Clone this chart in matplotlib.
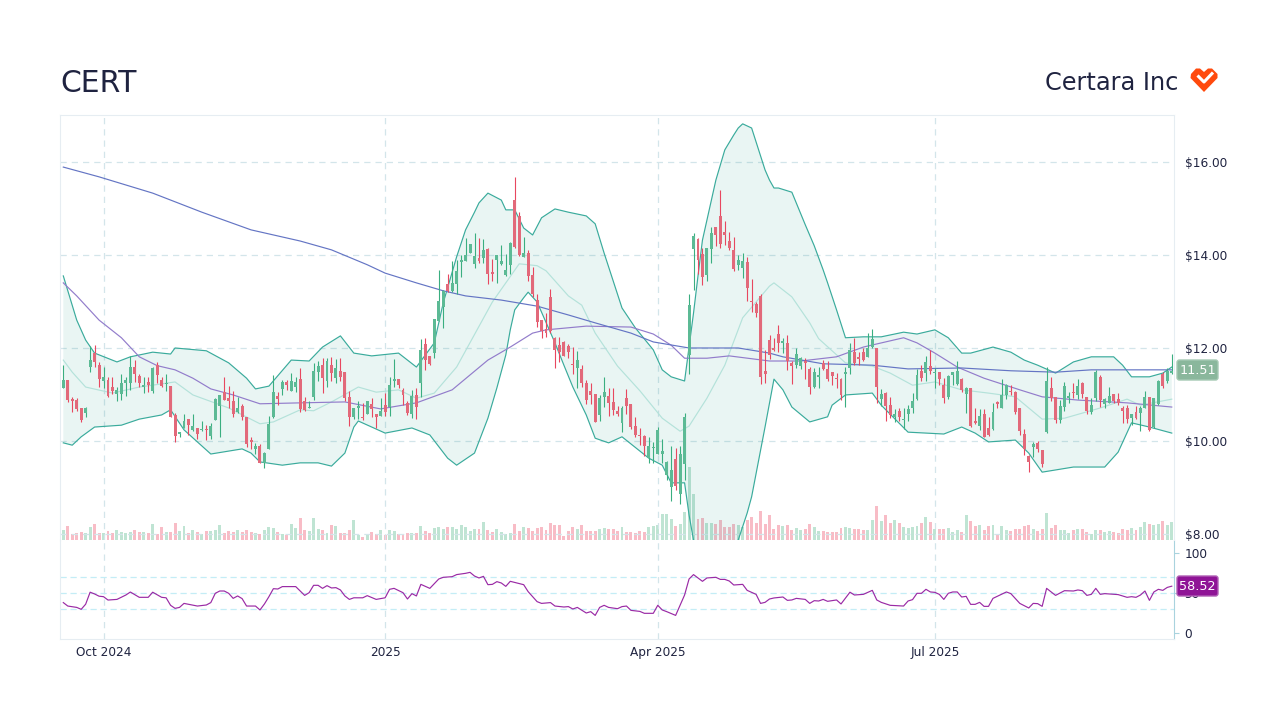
import numpy as np
import matplotlib
matplotlib.use("Agg")
import matplotlib.pyplot as plt
from matplotlib.patches import FancyBboxPatch, Polygon

# daily candles, one value per trading day
highs = [11.63,11.31,10.94,10.92,10.72,10.74,12.04,12.06,11.69,11.60,
    11.38,11.38,11.17,11.45,11.38,11.83,11.75,11.45,11.38,11.37,
    11.60,11.69,11.38,11.43,11.19,10.61,10.20,10.59,10.47,10.59,
    10.29,10.44,10.34,10.38,10.92,10.99,11.37,11.19,11.08,10.94,
    10.79,10.52,10.09,9.95,9.93,9.77,10.54,11.42,11.06,11.32,
    11.31,11.47,11.37,11.58,10.94,10.86,11.67,11.73,11.78,11.78,
    11.81,11.76,11.78,11.49,11.08,10.71,10.85,10.82,10.86,10.93,
    10.58,10.93,11.04,11.37,11.76,11.33,11.15,10.85,11.10,11.13,
    12.19,12.21,11.83,12.63,13.68,13.25,13.60,13.86,13.89,13.99,
    14.36,14.24,14.48,14.37,14.34,14.14,13.91,14.00,14.21,14.03,
    14.27,15.68,14.93,14.39,14.11,13.74,13.17,12.60,12.76,13.26,
    12.23,12.23,12.14,12.09,12.03,11.94,11.63,11.31,11.24,11.02,
    10.99,11.38,11.15,11.13,10.75,10.75,11.11,10.79,10.51,10.27,
    10.13,10.09,9.98,10.31,10.04,9.56,9.90,9.84,9.90,10.61,
    13.17,14.48,14.36,14.14,14.15,14.61,14.61,15.40,14.72,14.49,
    14.38,14.00,14.04,13.95,13.48,12.99,13.17,11.96,12.28,12.21,
    12.49,12.21,12.28,11.71,11.99,11.80,11.78,11.60,11.58,11.60,
    11.74,11.73,11.49,11.47,11.35,11.60,12.11,12.21,11.92,11.99,
    12.33,12.40,12.01,11.11,11.06,10.94,10.68,10.70,10.70,10.77,
    11.04,11.54,11.63,11.83,11.96,11.58,11.49,11.35,11.42,11.49,
    11.71,11.35,11.17,11.15,10.70,10.68,10.68,10.52,10.81,10.86,
    11.33,11.23,11.20,11.08,10.70,10.25,9.70,9.98,10.00,9.81,
    11.60,11.37,10.95,10.88,11.26,11.06,11.24,11.33,11.26,10.95,
    10.92,11.53,11.42,10.92,11.17,11.02,11.04,10.75,10.77,10.59,
    10.75,10.75,11.08,10.95,10.92,11.31,11.49,11.58,11.86]
opens = [11.14,11.31,10.91,10.88,10.71,10.61,11.60,11.90,11.63,11.30,
    11.32,11.16,11.01,11.00,11.24,11.24,11.60,11.40,11.17,11.27,
    11.08,11.63,11.32,11.23,11.19,10.56,10.15,10.29,10.47,10.23,
    10.28,10.24,10.26,10.11,10.46,10.76,11.05,10.92,10.86,10.63,
    10.75,10.51,10.02,9.83,9.89,9.53,9.83,10.51,10.97,11.11,
    11.27,11.08,11.17,11.33,10.85,10.71,10.95,11.49,11.63,11.30,
    11.63,11.36,11.51,11.48,10.94,10.52,10.72,10.51,10.59,10.79,
    10.58,10.54,10.77,10.74,11.30,11.33,11.10,10.81,10.57,10.99,
    11.25,12.09,11.83,11.89,12.57,12.89,13.38,13.23,13.38,13.84,
    13.88,14.05,13.81,13.93,13.93,14.12,13.62,13.89,13.81,13.57,
    13.78,15.18,14.84,13.96,14.04,13.56,13.03,12.60,12.40,13.09,
    12.21,12.06,12.12,12.05,11.64,11.58,11.54,11.25,11.08,11.01,
    10.56,10.95,10.97,10.83,10.65,10.39,10.92,10.79,10.32,10.13,
    10.11,9.63,9.84,9.73,9.71,9.27,9.02,9.61,8.86,9.51,
    11.85,14.12,14.34,14.02,13.57,14.12,14.61,14.84,14.50,14.29,
    14.11,13.79,13.73,13.84,13.01,12.95,13.12,11.50,12.17,11.99,
    12.29,12.11,12.10,11.68,11.63,11.61,11.73,11.54,11.17,11.37,
    11.68,11.54,11.48,11.35,11.33,11.45,11.56,11.92,11.80,11.91,
    11.81,12.03,11.99,10.90,11.04,10.77,10.52,10.64,10.45,10.58,
    10.70,10.90,11.51,11.47,11.61,11.46,11.49,11.20,10.94,11.42,
    11.23,11.33,11.02,11.15,10.43,10.32,10.58,10.27,10.25,10.84,
    10.72,10.99,11.08,11.06,10.70,10.15,9.68,9.88,9.96,9.81,
    10.20,11.15,10.94,10.45,10.74,10.92,11.06,10.99,11.25,10.95,
    10.63,10.92,11.38,10.80,10.82,11.01,10.90,10.72,10.70,10.49,
    10.63,10.61,10.72,10.94,10.31,10.80,11.43,11.28,11.46]
closes = [11.31,10.88,10.87,10.69,10.45,10.71,11.75,11.70,11.33,11.38,
    10.97,11.07,11.09,11.24,11.32,11.60,11.45,11.24,11.20,11.20,
    11.57,11.42,11.19,11.24,10.52,10.11,10.20,10.42,10.34,10.32,
    10.16,10.26,10.24,10.32,10.90,10.99,10.89,10.87,10.57,10.71,
    10.52,9.93,9.98,9.90,9.53,9.75,10.36,11.05,10.91,11.27,
    11.20,11.29,11.27,10.68,10.67,10.73,11.50,11.61,11.35,11.72,
    11.47,11.56,11.38,10.92,10.52,10.71,10.75,10.49,10.86,10.68,
    10.52,10.64,10.63,11.20,11.33,11.20,10.99,10.60,10.97,10.74,
    11.96,11.74,11.66,12.62,13.00,13.23,13.23,13.39,13.66,13.89,
    14.00,14.24,13.98,13.86,14.11,13.59,13.60,14.00,13.86,13.68,
    14.25,14.18,14.00,14.04,13.55,13.17,12.55,12.37,12.33,12.37,
    11.96,11.92,11.83,11.91,11.63,11.74,11.25,10.89,10.99,10.41,
    10.92,11.05,10.81,10.67,10.59,10.72,10.76,10.31,10.13,10.11,
    9.90,9.89,9.88,10.24,9.78,9.54,9.37,9.03,9.73,10.51,
    12.92,14.41,13.89,13.53,14.14,14.48,14.43,14.24,14.43,14.14,
    13.69,13.89,13.87,13.28,12.99,12.76,11.37,11.45,11.85,11.96,
    12.11,12.16,11.71,11.62,11.88,11.78,11.67,11.17,11.48,11.42,
    11.54,11.33,11.40,11.34,10.99,11.47,11.96,11.68,11.76,11.74,
    11.99,12.19,11.17,11.01,10.75,10.56,10.58,10.52,10.47,10.69,
    10.86,11.42,11.36,11.69,11.51,11.48,11.33,10.92,11.40,11.48,
    11.51,11.10,11.13,10.32,10.39,10.54,10.09,10.13,10.62,10.79,
    10.99,11.20,11.06,10.63,10.22,9.82,9.54,9.94,9.82,9.51,
    11.28,10.92,10.45,10.75,11.18,10.97,11.03,11.18,11.01,10.65,
    10.77,11.48,10.89,10.90,10.97,10.87,10.81,10.65,10.47,10.58,
    10.49,10.72,10.95,10.24,10.92,11.30,11.18,11.51,11.51]
lows = [11.13,10.84,10.63,10.65,10.41,10.51,11.49,11.60,11.17,11.13,
    10.95,11.01,10.87,10.88,10.97,11.09,11.27,11.17,11.04,11.06,
    11.04,11.25,11.17,11.08,10.52,9.98,10.08,10.27,10.13,10.21,
    10.05,10.21,10.03,10.05,10.45,10.08,10.88,10.70,10.52,10.61,
    10.45,9.88,9.83,9.72,9.53,9.41,9.82,10.49,10.77,10.99,
    11.09,11.07,11.06,10.63,10.65,10.70,10.88,11.30,11.04,11.17,
    11.28,11.24,11.28,10.85,10.32,10.47,10.47,10.45,10.58,10.51,
    10.29,10.54,10.54,10.54,11.17,11.15,10.78,10.56,10.49,10.47,
    10.95,11.53,11.63,11.78,12.57,12.42,13.21,13.21,13.16,13.52,
    13.86,14.04,13.71,13.82,13.82,13.37,13.43,13.39,13.78,13.55,
    13.59,14.16,13.98,13.95,13.44,13.09,12.46,12.21,12.24,12.32,
    11.58,11.70,11.83,11.78,11.45,11.13,11.17,10.80,10.80,10.40,
    10.44,10.74,10.54,10.56,10.54,10.20,10.59,10.25,10.08,9.91,
    9.68,9.52,9.53,9.72,9.52,9.16,8.72,8.95,8.65,9.16,
    11.44,13.25,13.60,13.35,13.44,13.83,14.20,14.16,14.21,14.11,
    13.66,13.68,13.50,13.02,12.78,12.67,11.22,11.24,11.76,11.93,
    11.92,11.90,11.53,11.23,11.56,11.54,11.33,11.01,11.15,11.15,
    11.53,11.30,11.20,11.13,10.88,10.74,11.45,11.63,11.63,11.71,
    11.80,11.99,10.81,10.75,10.42,10.49,10.40,10.42,10.25,10.42,
    10.60,10.88,11.28,11.30,11.45,11.13,11.21,10.82,10.90,11.20,
    11.20,11.06,10.60,10.30,10.37,10.24,10.08,10.11,10.24,10.70,
    10.70,10.90,10.99,10.58,10.13,9.70,9.34,9.66,9.77,9.45,
    10.18,10.86,10.38,10.39,10.65,10.81,10.92,10.90,10.92,10.58,
    10.58,10.85,10.74,10.70,10.81,10.81,10.77,10.39,10.38,10.34,
    10.47,10.22,10.70,10.22,10.27,10.77,11.13,11.24,11.45]
# volume in 10k shares
volumes = [30,42,18,20,24,20,38,48,22,20,26,20,30,24,22,25,30,24,24,20,
    48,18,38,24,24,50,26,42,20,30,24,18,28,26,30,44,22,26,24,30,
    24,30,24,22,18,30,38,36,24,18,14,48,36,66,30,26,66,32,30,20,
    44,42,20,22,30,60,16,8,16,24,18,30,16,30,28,18,16,20,20,20,
    42,26,20,36,38,34,40,38,34,44,38,28,32,32,54,30,24,32,24,18,
    20,48,28,38,36,28,36,40,30,50,46,46,12,26,38,32,46,28,26,26,
    32,36,34,32,26,
    39,23,23,20,26,23,40,43,45,78,78,63,42,48,84,219,138,63,65,51,
    51,48,60,39,39,48,45,40,60,68,51,87,48,75,33,45,42,45,29,36,
    30,33,48,39,27,27,24,24,24,36,39,36,33,33,30,29,60,102,57,75,
    51,60,51,39,36,39,42,51,69,54,33,33,33,36,24,30,24,75,57,42,
    45,30,42,45,18,42,30,27,33,33,42,45,33,27,33,81,36,45,30,30,
    21,30,33,33,24,18,30,30,24,27,24,21,33,30,36,30,39,54,48,45,
    48,57,45,54]

# bollinger bands, read at the turning points
bb_upper_idx = [0,3,5,7,12,15,17,20,24,25,32,37,41,43,46,51,55,58,62,65,69,75,79,83,85,88,90,92,93,95,98,99,101,
    103,105,107,110,113,117,119,121,125,128,132,134,136,139,141,142,143,146,148,150,151,152,154,157,158,159,160,163,166,168,170,171,173,175,179,183,188,
    191,195,198,201,203,208,212,215,218,222,226,230,235,237,239,243,246,248]
bb_upper = [13.55,12.60,12.17,11.89,11.70,11.81,11.85,11.91,11.87,12.00,11.94,11.68,11.35,11.12,11.18,11.74,11.72,12.02,12.26,11.89,11.83,11.89,11.59,12.11,12.97,13.96,14.54,14.92,15.12,15.33,15.18,14.97,14.97,
    14.58,14.43,14.80,14.99,14.92,14.84,14.67,14.04,12.86,12.43,11.96,11.53,11.38,11.29,12.75,13.55,14.32,15.61,16.26,16.58,16.73,16.82,16.73,15.83,15.61,15.44,15.44,15.35,14.65,14.20,13.68,13.40,12.82,12.22,12.24,12.24,12.34,
    12.30,12.39,12.22,11.89,11.89,12.02,11.91,11.74,11.63,11.46,11.70,11.81,11.81,11.63,11.38,11.38,11.46,11.59]
bb_lower_idx = [0,2,4,7,13,17,22,24,27,33,40,42,44,49,53,57,60,63,65,66,72,78,82,86,88,92,95,97,99,100,101,103,104,
    106,110,112,114,117,119,122,125,131,134,136,139,140,141,146,151,153,154,156,157,159,161,163,167,171,172,175,181,183,189,193,197,201,204,207,
    213,216,219,226,233,236,239,243,248]
bb_lower = [9.96,9.91,10.09,10.30,10.34,10.47,10.56,10.67,10.24,9.72,9.83,9.74,9.55,9.48,9.53,9.53,9.46,9.74,10.30,10.43,10.17,10.28,10.13,9.63,9.48,9.74,10.49,11.14,11.85,12.39,12.82,13.08,13.20,
    12.99,12.11,11.63,11.16,10.56,10.06,9.96,10.09,9.63,9.48,9.10,9.10,8.41,7.87,6.58,7.87,8.45,8.80,9.80,10.30,11.33,11.10,10.73,10.41,10.52,10.77,10.99,11.03,10.77,10.19,10.17,10.15,10.30,10.17,9.98,
    10.02,9.74,9.33,9.44,9.44,9.76,10.39,10.30,10.17]
bb_mid_idx = [0,2,5,11,17,25,29,37,44,47,53,56,60,66,70,75,79,83,88,96,102,106,108,113,116,119,124,129,134,138,
    140,144,148,152,158,159,163,167,169,175,181,185,190,195,201,207,213,219,224,232,238,241,248]
bb_mid = [11.74,11.48,11.16,11.03,11.16,11.27,10.99,10.71,10.37,10.41,10.67,10.65,10.84,11.16,11.05,11.10,10.92,11.03,11.59,12.99,13.81,13.77,13.66,13.12,12.92,12.32,11.61,11.08,10.49,10.21,
    10.32,10.92,11.63,12.65,13.33,13.40,13.10,12.54,12.20,11.68,11.61,11.46,11.20,11.27,11.10,11.03,10.95,10.47,10.49,10.71,10.90,10.77,10.90]

sma50_idx = [0,3,8,13,17,21,25,29,33,38,44,53,63,71,79,87,95,100,105,108,117,127,132,136,139,144,149,158,165,173,
    179,188,191,195,200,206,214,219,227,238,248]
sma50 = [13.40,13.12,12.60,12.22,11.81,11.62,11.53,11.35,11.12,10.99,10.80,10.82,10.84,10.69,10.82,11.10,11.74,12.02,12.32,12.39,12.47,12.45,12.30,12.06,11.78,11.78,11.83,11.72,11.72,11.81,
    12.02,12.22,12.11,11.89,11.59,11.35,11.10,10.95,10.88,10.82,10.73]
sma200_idx = [0,8,20,31,42,53,60,68,72,79,85,90,98,106,113,119,127,132,140,151,158,161,170,181,189,201,212,222,230,248]
sma200 = [15.89,15.68,15.33,14.92,14.54,14.30,14.11,13.79,13.61,13.40,13.23,13.12,13.03,12.90,12.71,12.54,12.32,12.13,12.00,12.00,11.89,11.81,11.66,11.63,11.55,11.57,11.51,11.48,11.53,11.53]

rsi_idx = [0,1,3,4,5,6,7,8,9,10,12,14,15,17,19,20,22,23,24,25,26,27,30,32,33,34,35,36,37,38,39,40,41,43,44,45,46,47,48,49,52,54,55,56,57,58,59,60,61,62,63,64,65,67,68,70,72,73,74,76,77,78,79,80,82,84,85,87,88,90,91,92,93,94,95,96,97,98,99,100,103,104,105,106,107,109,110,112,113,114,115,117,118,119,120,121,122,124,
    125,126,127,129,130,132,133,134,135,137,139,140,141,143,144,146,147,148,149,150,152,153,155,156,157,158,159,161,162,163,164,166,167,168,169,170,171,173,174,176,177,179,181,182,183,185,188,189,190,191,192,193,194,195,196,197,198,199,200,201,202,203,204,205,206,207,208,211,212,214,216,217,218,219,220,222,224,226,227,228,229,230,231,232,233,236,238,239,240,241,242,243,244,245,246,247,248]
rsi = [38,33.7,32,29.6,36,51,48.8,46,45.4,41.2,42,47.5,51.2,44.6,44.6,51,44.6,44,34.6,30.8,32,37,33.7,35,38,49.6,52.5,52.5,49.6,43.3,46.3,43,33.7,33.7,28.8,36.3,45.4,55.4,55,58,58,47,50.4,59.6,59.6,55.8,59.2,56.3,56.7,53.8,46.3,42,44,44,46.7,42,44,54.6,55.8,50.4,42.5,49.2,46.3,60.8,55.8,67.5,69.6,70.4,73,74.6,75.8,71.2,68.8,70.8,60.4,60.8,64.2,62.5,58.3,64.6,60.4,51.7,45.4,39.2,37,38,33.7,32.5,33,30,32,25,26.7,22,32,34.6,32,30.4,
    33,33.7,28.3,27,24.6,24.6,34.6,28.8,26.7,22,47.5,67.5,73,64.6,68.8,69.6,67,67,65,60,60.8,53.3,48.3,37,38.3,42.5,43.8,45,40.8,41.3,43.3,42,37,40.4,40,42,39.6,41.3,36.3,51,47.5,48.3,53.3,41.3,38.3,34.6,33.7,40,41.7,49.6,49.6,54.6,51.3,50.8,48.3,42,49.6,51.3,51.3,45,45.8,35.8,35.8,38.3,33.3,33.3,43.3,51.3,49.2,37,31.3,37,36.7,33.3,55.8,47,52.9,52.5,53.8,52.9,47,48.3,55.8,48.3,49.2,48,44.6,45.4,44.6,47.5,52.5,40.8,51.3,54.6,53.3,57,58.52]

date_ticks = [9, 72, 133, 195]
date_labels = ["Oct 2024", "2025", "Apr 2025", "Jul 2025"]
price_ticks = [8, 10, 12, 14, 16]
price_labels = ["$8.00", "$10.00", "$12.00", "$14.00", "$16.00"]
rsi_ticks = [0, 50, 100]
rsi_levels = [30, 50, 70]

assert len(highs) == len(opens) == len(closes) == len(lows) == len(volumes) == 249, (len(highs), len(opens), len(closes), len(lows), len(volumes))
assert len(bb_upper) == len(bb_upper_idx) and len(bb_lower) == len(bb_lower_idx) and len(bb_mid) == len(bb_mid_idx), (len(bb_upper), len(bb_upper_idx), len(bb_lower), len(bb_lower_idx))
assert len(sma50) == len(sma50_idx) and len(sma200) == len(sma200_idx) and len(rsi) == len(rsi_idx), (len(rsi), len(rsi_idx))

TEXT = "#1f2340"
FRAME = "#e6edf2"
GRID = "#d3e5ea"

plt.rcParams["font.family"] = "DejaVu Sans"
fig = plt.figure(figsize=(12.8, 7.2), dpi=100)

ax = fig.add_axes([60/1280, 180/720, 1114/1280, 425/720])
ax_vol = ax.twinx()
ax_rsi = fig.add_axes([60/1280, 81/720, 1114/1280, 99/720], sharex=ax)
ax.set_zorder(ax_vol.get_zorder() + 1)
ax.patch.set_visible(False)

x = np.arange(len(closes))
opens_a, closes_a = np.array(opens), np.array(closes)
up = closes_a >= opens_a

# volume sits along the bottom of the price panel
ax_vol.bar(x[up], np.array(volumes)[up], width=0.66, color="#bfe4d3", linewidth=0)
ax_vol.bar(x[~up], np.array(volumes)[~up], width=0.66, color="#f8bcc6", linewidth=0)
ax_vol.set_ylim(0, 1275)
ax_vol.axis("off")

# grid
for t in price_ticks:
    ax.axhline(t, color=GRID, lw=0.9, dashes=(5, 4), zorder=1)
for t in date_ticks:
    ax.axvline(t, color=GRID, lw=0.9, dashes=(5, 4), zorder=1)
    ax_rsi.axvline(t, color=GRID, lw=0.9, dashes=(5, 4), zorder=1)

# bollinger band
band_x = np.concatenate([bb_upper_idx, bb_lower_idx[::-1]])
band_y = np.concatenate([bb_upper, bb_lower[::-1]])
ax.fill(band_x, band_y, color="#2a9d8f", alpha=0.1, lw=0, zorder=2)
ax.plot(bb_upper_idx, bb_upper, color="#3aab9c", lw=0.85, zorder=3)
ax.plot(bb_lower_idx, bb_lower, color="#3aab9c", lw=0.85, zorder=3)
ax.plot(bb_mid_idx, bb_mid, color="#b4e2da", lw=0.85, zorder=3)
ax.plot(sma50_idx, sma50, color="#927ccb", lw=0.85, zorder=3)
ax.plot(sma200_idx, sma200, color="#6475c4", lw=0.85, zorder=3)

# candles
ax.vlines(x[up], np.array(lows)[up], np.array(highs)[up], color="#3aae80", lw=0.8, zorder=4)
ax.vlines(x[~up], np.array(lows)[~up], np.array(highs)[~up], color="#e8475f", lw=0.8, zorder=4)
body_h = np.maximum(np.abs(closes_a - opens_a), 0.025)
body_b = np.minimum(opens_a, closes_a)
ax.bar(x[up], body_h[up], bottom=body_b[up], width=0.66, color="#5cba95", linewidth=0, zorder=5)
ax.bar(x[~up], body_h[~up], bottom=body_b[~up], width=0.66, color="#e2697a", linewidth=0, zorder=5)

ax.set_xlim(-0.74, 248.5)
ax.set_ylim(7.871, 17.01)
ax.yaxis.tick_right()
ax.set_yticks(price_ticks)
ax.set_yticklabels(price_labels, fontsize=8.7, color=TEXT)
ax.tick_params(axis="y", length=0, pad=8)
ax.tick_params(axis="x", bottom=False, labelbottom=False)
for s in ax.spines.values():
    s.set_color(FRAME)
    s.set_linewidth(0.8)
ax.spines["bottom"].set_visible(False)
for s in ax_vol.spines.values():
    s.set_visible(False)

# rsi panel
for lvl in rsi_levels:
    ax_rsi.axhline(lvl, color="#c4edf6", lw=0.9, dashes=(5, 3), zorder=1)
ax_rsi.plot(rsi_idx, rsi, color="#9a2aa5", lw=0.85, zorder=3)
ax_rsi.set_ylim(-7.5, 116.25)
ax_rsi.yaxis.tick_right()
ax_rsi.set_yticks(rsi_ticks)
ax_rsi.set_yticklabels([str(t) for t in rsi_ticks], fontsize=8.7, color=TEXT)
ax_rsi.tick_params(axis="y", length=3.5, width=0.8, color="#a9d3de", pad=4)
ax_rsi.set_xticks(date_ticks)
ax_rsi.set_xticklabels(date_labels, fontsize=8.7, color=TEXT)
ax_rsi.tick_params(axis="x", length=0, pad=5)
for s in ax_rsi.spines.values():
    s.set_color(FRAME)
    s.set_linewidth(0.8)
ax_rsi.spines["top"].set_visible(False)
ax_rsi.spines["right"].set_color("#a9d3de")

# header, logo and last value tags in pixel coords
over = fig.add_axes([0, 0, 1, 1], zorder=20)
over.set_xlim(0, 1280)
over.set_ylim(720, 0)
over.axis("off")
over.text(60, 83.5, "CERT", fontsize=21.5, color=TEXT, ha="left", va="center")
over.text(1178, 83.5, "Certara Inc", fontsize=17.3, color=TEXT, ha="right", va="center")
over.add_patch(Polygon([(1191, 74), (1196, 68.5), (1200, 68.5), (1204, 72), (1208, 68.5), (1212, 68.5), (1217.5, 74),
                        (1217.5, 78), (1204, 92), (1190.5, 78)], closed=True, color="#ff4a0d", lw=0))
over.plot([1197.5, 1204, 1213], [75.5, 82, 72.5], color="white", lw=2.2, solid_capstyle="butt")

over.add_patch(FancyBboxPatch((1177, 360), 41, 20, boxstyle="round,pad=0,rounding_size=2.5", fc="#8ab79c", ec="#a5c9b3", lw=1))
over.text(1197.5, 370.5, "11.51", color="white", fontsize=9.2, ha="center", va="center")
over.add_patch(FancyBboxPatch((1177, 576), 41, 20, boxstyle="round,pad=0,rounding_size=2.5", fc="#8f1496", ec="#b060b5", lw=1))
over.text(1197.5, 586.5, "58.52", color="white", fontsize=9.2, ha="center", va="center")

fig.savefig("out.png", dpi=100)
